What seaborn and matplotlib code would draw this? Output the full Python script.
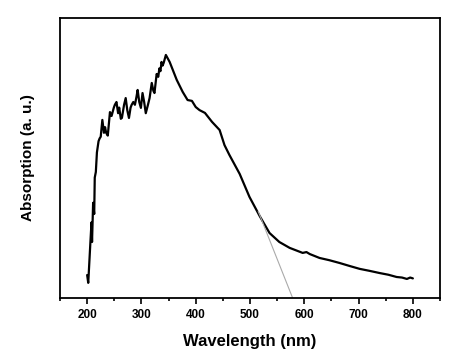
import matplotlib
matplotlib.use("Agg")
import matplotlib.pyplot as plt
import seaborn as sns
from matplotlib.ticker import MultipleLocator

# absorption spectrum (arbitrary units)
wavelength = [200, 202, 206, 208, 209, 211, 213, 214, 216, 218, 221, 223, 225, 228, 231,
              233, 235, 238, 242, 245, 249, 251, 254, 257, 259, 262, 264, 268, 271, 274,
              277, 280, 282, 285, 288, 291, 293, 296, 299, 302, 305, 308, 312, 315, 319,
              322, 324, 328, 331, 333, 335, 337, 339, 341, 345, 352, 365, 376, 385, 393,
              400, 407, 417, 430, 444, 453, 462, 481, 499, 518, 536, 554, 573, 597,
              604, 610, 628, 646, 665, 684, 702, 720, 739, 755, 770, 780, 789, 795, 800]
absorption = [0.082, 0.054, 0.20, 0.27, 0.20, 0.34, 0.30, 0.43, 0.45, 0.52, 0.56, 0.57,
              0.576, 0.636, 0.59, 0.61, 0.59, 0.58, 0.664, 0.65, 0.679, 0.69, 0.70, 0.66,
              0.68, 0.64, 0.643, 0.69, 0.714, 0.67, 0.643, 0.68, 0.69, 0.70, 0.69, 0.72,
              0.743, 0.70, 0.679, 0.732, 0.70, 0.66, 0.69, 0.714, 0.768, 0.74, 0.732,
              0.80, 0.79, 0.82, 0.81, 0.843, 0.83, 0.84, 0.868, 0.843, 0.779, 0.736,
              0.707, 0.704, 0.682, 0.671, 0.661, 0.629, 0.60, 0.546, 0.511, 0.443,
              0.361, 0.292, 0.232, 0.20, 0.179, 0.161, 0.164, 0.157, 0.143, 0.135,
              0.125, 0.114, 0.104, 0.097, 0.089, 0.083, 0.075, 0.073, 0.068, 0.073, 0.070]

# tangent used for the band edge estimate
tangent_x = [515, 578.5]
tangent_y = [0.31, 0.0]

sns.set_style("ticks")
plt.rcParams["font.family"] = ["Liberation Sans", "DejaVu Sans"]
plt.rcParams["font.weight"] = "bold"
plt.rcParams["text.color"] = "black"
plt.rcParams["axes.labelcolor"] = "black"
plt.rcParams["xtick.color"] = "black"

fig = plt.figure(figsize=(4.74, 3.55), dpi=100)
ax = fig.add_axes([0.1266, 0.1606, 0.8017, 0.7887])

sns.lineplot(x=wavelength, y=absorption, ax=ax, color="black", linewidth=1.6,
             estimator=None, sort=False)
sns.lineplot(x=tangent_x, y=tangent_y, ax=ax, color="#aaaaaa", linewidth=0.8,
             estimator=None, sort=False)

ax.set_xlim(150, 850)
ax.set_ylim(0, 1)
ax.xaxis.set_major_locator(MultipleLocator(100))
ax.xaxis.set_minor_locator(MultipleLocator(50))
ax.set_yticks([])
ax.tick_params(axis="x", which="major", direction="out", length=4, width=1.2,
               labelsize=8.5, pad=4, colors="black")
ax.tick_params(axis="x", which="minor", direction="out", length=2.5, width=1.2,
               colors="black")
for lbl in ax.get_xticklabels():
    lbl.set_fontweight("bold")
for s in ax.spines.values():
    s.set_linewidth(1.3)
    s.set_color("black")

ax.set_xlabel("Wavelength (nm)", fontsize=12, fontweight="bold", labelpad=9)
ax.set_ylabel("Absorption (a. u.)", fontsize=11, fontweight="bold", labelpad=18)

fig.savefig("out.png", dpi=100)
